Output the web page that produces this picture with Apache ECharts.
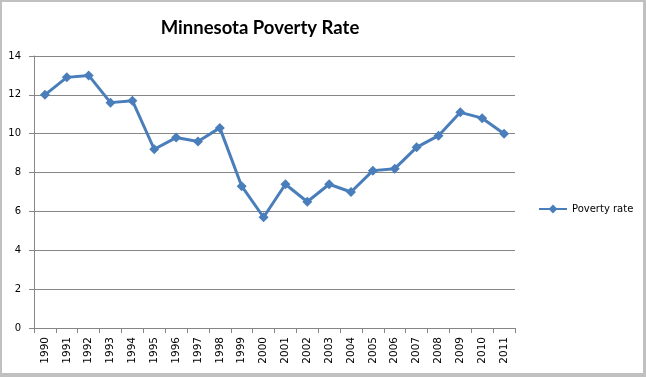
<!DOCTYPE html>
<html><head><meta charset="utf-8">
<script src="https://cdn.jsdelivr.net/npm/echarts@6/dist/echarts.min.js"></script>
<style>
html,body{margin:0;padding:0;background:#c0c0c0;}
#wrap{position:absolute;left:0;top:0;width:646px;height:377px;background:#c0c0c0;}
#c{position:absolute;left:2px;top:2px;width:641px;height:371px;background:#fff;}
</style></head>
<body><div id="wrap"><div id="c"></div></div>
<script>
const titleText = "Minnesota Poverty Rate";
const seriesName = "Poverty rate";
const years = ["1990","1991","1992","1993","1994","1995","1996","1997","1998","1999","2000","2001","2002","2003","2004","2005","2006","2007","2008","2009","2010","2011"];
const povertyRate = [12.0,12.9,13.0,11.6,11.7,9.2,9.8,9.6,10.3,7.3,5.7,7.4,6.5,7.4,7.0,8.1,8.2,9.3,9.9,11.1,10.8,10.0];
const yTicks = [0,2,4,6,8,10,12,14];

const chart = echarts.init(document.getElementById('c'), null, {renderer:'canvas'});
const lineColor = '#4a7ebb';
const gridColor = '#868686';
chart.setOption({
  animation:false,
  title:{text:titleText,left:253,textAlign:'center',top:12,
    textStyle:{fontFamily:'Lato',fontWeight:700,fontSize:18.5,color:'#000'}},
  legend:{data:[seriesName],orient:'vertical',left:531,top:197,itemWidth:28,itemHeight:11,itemGap:4,
    textStyle:{fontFamily:'DejaVu Sans',fontSize:10,color:'#000'}},
  grid:{left:32,right:128,top:54,bottom:45,containLabel:false},
  xAxis:{type:'category',data:years,boundaryGap:true,
    axisLine:{lineStyle:{color:gridColor,width:1}},
    axisTick:{show:true,length:5,lineStyle:{color:gridColor}},
    axisLabel:{rotate:90,margin:9,fontFamily:'DejaVu Sans',fontSize:10.5,color:'#000'}},
  yAxis:{type:'value',min:0,max:14,interval:2,
    axisLine:{show:true,lineStyle:{color:gridColor,width:1}},
    axisTick:{show:true,length:5,lineStyle:{color:gridColor}},
    splitLine:{show:true,lineStyle:{color:gridColor,width:1}},
    axisLabel:{margin:13,fontFamily:'DejaVu Sans',fontSize:10,color:'#000',
      formatter:function(v){return yTicks.indexOf(v)>=0?String(v):'';}}},
  series:[{name:seriesName,type:'line',data:povertyRate,symbol:'diamond',symbolSize:10,
    lineStyle:{color:lineColor,width:3},itemStyle:{color:lineColor}}]
});
</script></body></html>
